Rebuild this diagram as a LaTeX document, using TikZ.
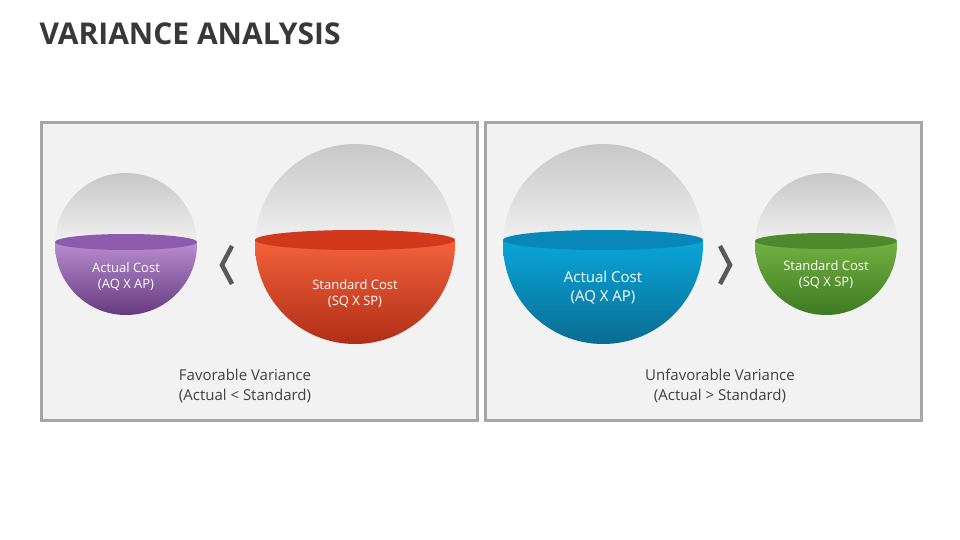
\documentclass[tikz,border=0pt]{standalone}
\usepackage{fontspec}
\setmainfont{Open Sans}
\usetikzlibrary{calc}
\begin{document}
\begin{tikzpicture}[x=1pt,y=-1pt,
  panel/.style={fill=black!5,draw=black!35,line width=3pt},
  lbl/.style={text=white,align=center,font=\fontsize{13}{16}\selectfont},
  captext/.style={text=black!75,align=center,font=\fontsize{15}{20}\selectfont},
  chev/.style={draw=black!65,line width=4.5pt}]
\useasboundingbox (0,0) rectangle (960,540);
\fill[white] (0,0) rectangle (960,540);
\node[anchor=west,text=black!78,font=\fontsize{30}{34}\bfseries\selectfont] (title) at (36,34) {VARIANCE ANALYSIS};
\node[panel,minimum width=436,minimum height=298,inner sep=0,anchor=north west] (lp) at (40,121) {};
\node[panel,minimum width=436,minimum height=298,inner sep=0,anchor=north west] (rp) at (484,121) {};
\newcommand{\sph}[8]{%
  \begin{scope}
  \clip (#1,#2) circle (#3);
  \shade[top color=black!22,bottom color=black!6] (#1-#3,#2-#3) rectangle (#1+#3,#4);
  \shade[top color=#6,bottom color=#7] (#1-#3,#4) rectangle (#1+#3,#2+#3);
  \end{scope}
  \fill[#8] (#1,#4) ellipse ({#3} and {#5});}
\definecolor{pt}{HTML}{B78ED0}\definecolor{pb}{HTML}{663A80}\definecolor{pr}{HTML}{8E5AAE}
\definecolor{ot}{HTML}{F4623A}\definecolor{ob}{HTML}{B02E18}\definecolor{orr}{HTML}{D2381C}
\definecolor{bt}{HTML}{09A6DA}\definecolor{bb}{HTML}{0A6C92}\definecolor{br}{HTML}{0788B8}
\definecolor{gt}{HTML}{73B143}\definecolor{gb}{HTML}{3E7A22}\definecolor{gr}{HTML}{4E8A2C}
\sph{126}{244}{71}{242}{8}{pt}{pb}{pr}
\sph{355}{244}{100}{240}{10}{ot}{ob}{orr}
\sph{603}{244}{100}{240}{10}{bt}{bb}{br}
\sph{826}{244}{71}{241}{8}{gt}{gb}{gr}
\node[lbl] (a1) at (126,277) {Actual Cost\\(AQ X AP)};
\node[lbl] (s1) at (355,294) {Standard Cost\\(SQ X SP)};
\node[lbl,font=\fontsize{15}{19}\selectfont] (a2) at (603,288) {Actual Cost\\(AQ X AP)};
\node[lbl] (s2) at (826,275) {Standard Cost\\(SQ X SP)};
\coordinate (c1) at (222,265);
\coordinate (c2) at (730,265);
\draw[chev] ($(c1)+(10,-19)$) -- (c1) -- ($(c1)+(10,19)$);
\draw[chev] ($(c2)+(-10,-19)$) -- (c2) -- ($(c2)+(-10,19)$);
\node[captext] (f) at (245,386) {Favorable Variance\\(Actual < Standard)};
\node[captext] (u) at (720,386) {Unfavorable Variance\\(Actual > Standard)};
\end{tikzpicture}
\end{document}
